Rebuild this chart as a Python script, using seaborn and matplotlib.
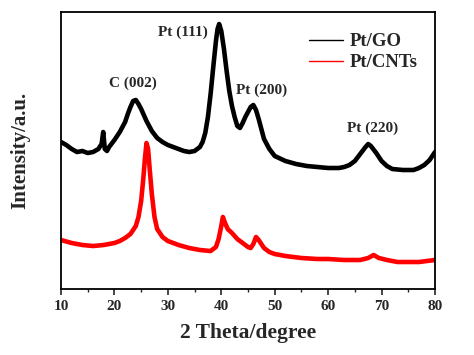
import matplotlib
matplotlib.use('Agg')
import matplotlib.pyplot as plt
from matplotlib.lines import Line2D
from matplotlib.ticker import MultipleLocator
import pandas as pd
import seaborn as sns

# Pt/GO pattern (arbitrary intensity units)
go_theta = [10, 11, 12, 13, 14, 15, 16, 17, 17.6, 17.9, 18.2, 18.6, 19, 20, 21, 22, 22.5,
            23, 23.5, 24, 24.5, 25, 26, 27, 28, 29, 30, 31, 32, 33, 34, 35, 36, 36.5, 37,
            37.5, 38, 38.5, 39, 39.3, 39.6, 40, 40.5, 41, 41.5, 42, 42.5, 43, 43.5, 44,
            44.5, 45, 45.5, 46, 46.5, 47, 47.5, 48, 49, 50, 52, 54, 56, 58, 60, 62, 63,
            64, 65, 66, 67, 67.5, 68, 69, 70, 71, 72, 74, 76, 77, 78, 79, 80]
go_int = [147, 144, 140, 137, 138, 136, 137, 140, 145, 157, 140, 138, 142, 149, 157, 167, 175,
          182, 188, 189, 185, 180, 168, 158, 151, 147, 144, 142, 140, 138, 137, 138, 142, 147, 156,
          172, 195, 222, 248, 260, 265, 258, 240, 218, 198, 183, 172, 163, 161, 166,
          172, 177, 182, 184, 179, 170, 160, 150, 140, 133, 128, 125, 123, 122, 121, 121, 122,
          124, 128, 135, 142, 145, 143, 136, 128, 123, 120, 119, 119, 121, 124, 129, 137]

# Pt/CNTs pattern
cnt_theta = [10, 12, 14, 16, 18, 20, 21, 22, 23, 24, 24.5, 25, 25.4, 25.7, 26, 26.3, 26.6,
             27, 27.5, 28, 29, 30, 32, 34, 36, 38, 39, 39.5, 40, 40.3, 40.7, 41.2, 42, 43,
             44, 45, 45.5, 46, 46.5, 47, 47.5, 48, 49, 50, 52, 55, 58, 60, 63, 66, 67.5,
             68.5, 69.5, 71, 73, 75, 77, 80]
cnt_int = [49, 46, 44, 43, 44, 46, 48, 51, 55, 63, 72, 88, 110, 130, 146, 140, 120,
           95, 72, 60, 52, 48, 44, 41, 39, 38, 42, 50, 63, 72, 66, 60, 56, 50,
           46, 42, 41, 45, 52, 49, 45, 41, 37, 35, 33, 31, 30, 30, 29, 29, 31,
           34, 31, 29, 27, 27, 27, 29]

peak_labels = ['C (002)', 'Pt (111)', 'Pt (200)', 'Pt (220)']
peak_pos = [(23.5, 206), (32.8, 257), (47.6, 199), (68.4, 161)]

sns.set_style('white')
plt.rcParams['font.family'] = ['Liberation Serif', 'DejaVu Serif']
plt.rcParams['font.weight'] = 'bold'

fig = plt.figure(figsize=(4.74, 3.55), dpi=100)
ax = fig.add_axes([0.1287, 0.1859, 0.789, 0.7803])

go = pd.DataFrame({'theta': go_theta, 'intensity': go_int})
cnt = pd.DataFrame({'theta': cnt_theta, 'intensity': cnt_int})
sns.lineplot(data=go, x='theta', y='intensity', color='black', lw=3.3, ax=ax)
sns.lineplot(data=cnt, x='theta', y='intensity', color='#ff0000', lw=3.3, ax=ax)

for lab, (px, py) in zip(peak_labels, peak_pos):
    ax.text(px, py, lab, ha='center', va='center', fontsize=11, fontweight='bold')

ax.set_xlim(10, 80)
ax.set_ylim(0, 277)
ax.xaxis.set_major_locator(MultipleLocator(10))
ax.xaxis.set_minor_locator(MultipleLocator(5))
ax.set_yticks([])
ax.tick_params(axis='x', which='major', direction='out', length=4, width=1.2,
               bottom=True, labelsize=11, pad=4)
ax.tick_params(axis='x', which='minor', direction='out', length=2.5, width=1.0, bottom=True)
for lbl in ax.get_xticklabels():
    lbl.set_fontweight('bold')
for sp in ax.spines.values():
    sp.set_linewidth(1.3)
    sp.set_color('black')

ax.set_xlabel('2 Theta/degree', fontsize=15.5, fontweight='bold', labelpad=7)
ax.set_ylabel('Intensity/a.u.', fontsize=15, fontweight='bold', labelpad=22)

handles = [Line2D([], [], color='black', lw=1), Line2D([], [], color='#ff0000', lw=1)]
ax.legend(handles, ['Pt/GO', 'Pt/CNTs'], loc='upper right', frameon=False,
          fontsize=13.5, handlelength=1.8, handletextpad=0.4, labelspacing=0.22,
          bbox_to_anchor=(1.0, 0.985))

fig.savefig('out.png', dpi=100)
